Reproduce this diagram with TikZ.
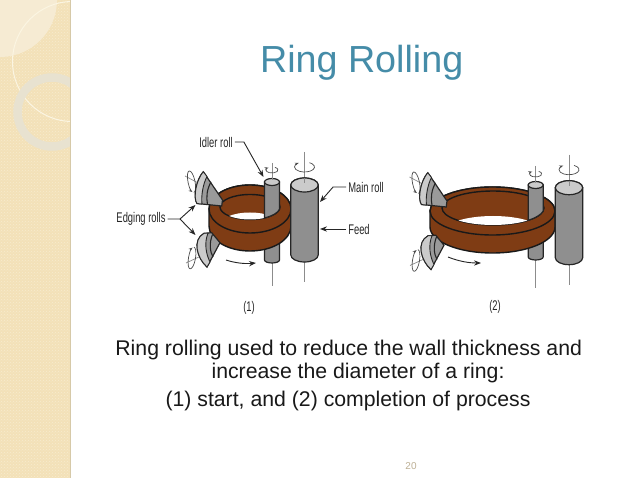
\documentclass[tikz,border=0pt]{standalone}
\usepackage{fontspec}
\setmainfont{Liberation Sans}
\newfontfamily\figfont[FakeStretch=0.67]{Liberation Sans}
\usepackage{xcolor}
\usepackage{tikz}
\usetikzlibrary{arrows.meta, patterns}
\definecolor{panelcol}{HTML}{F3E1B8}
\definecolor{paneldot}{HTML}{F7EBCF}
\definecolor{panelglow}{HTML}{F6EBD3}
\definecolor{panelring}{HTML}{E8E2D0}
\definecolor{panelline}{HTML}{FBF5E2}
\definecolor{paneledge}{HTML}{D6C9A8}
\definecolor{pagecol}{HTML}{BDB095}
\definecolor{brownring}{HTML}{7F3C14}
\definecolor{rollgray}{HTML}{8F8F8F}
\definecolor{capgray}{HTML}{CBCBCB}
\definecolor{titleblue}{HTML}{458CA8}
\tikzset{
  title/.style   = {anchor=base, inner sep=0pt, text=titleblue, font=\fontsize{37.7}{40}\selectfont},
  body/.style    = {anchor=base, inner sep=0pt, text=black!90, font=\fontsize{21.25}{24}\selectfont},
  figlabel/.style= {inner sep=0pt, text=black!85, font=\figfont\fontsize{14}{15}\selectfont},
  roll/.style    = {draw=black!85, line width=1.2pt, fill=rollgray},
  rollcap/.style = {draw=black!85, line width=1.2pt, fill=capgray},
  ringline/.style= {draw=black!90, line width=1.4pt, fill=brownring},
  axis/.style    = {draw=black!45, line width=0.7pt},
  spin/.style    = {draw=black!70, line width=0.7pt, -{Stealth[length=4pt]}},
  arr/.style     = {-{Stealth[length=7pt]}, line width=0.9pt, draw=black!85},
  stripe/.style  = {line width=1.1pt, black!85},
  uppercone/.pic = {
    \draw[axis] (185,176) -- (201,184.5);
    \draw[spin, rotate around={12:(191.5,181.7)}] (191.5,170.7) ++(0,22) arc[start angle=90, end angle=-250, x radius=3.5, y radius=11];
    \draw[roll, fill=rollgray!90] (203.3,171.7) -- (222.5,200) -- (221.7,206) -- (197,203.5)
      .. controls (193,198) and (196,180) .. (203.3,171.7);
    \draw[rollcap, line width=0.9pt] (203.3,171.7) .. controls (196,180) and (193,198) .. (197,203.5)
      .. controls (200,204) and (201,204) .. (202,204) .. controls (201,196) and (203,184) .. (207,176.5) -- cycle;
    \draw[stripe] (211,182) .. controls (207,189) and (206,197) .. (207.5,204.5);
  },
  lowercone/.pic = {
    \draw[axis] (186,263) -- (201,256);
    \draw[spin, rotate around={-10:(192,258)}] (192,247) arc[start angle=-90, end angle=250, x radius=3.5, y radius=11];
    \draw[roll, fill=rollgray!90] (204,233.3) -- (211.7,232.7) -- (220,242.7) -- (207,267)
      .. controls (197,258) and (192,240) .. (204,233.3);
    \draw[rollcap, line width=0.9pt] (204,233.3) .. controls (192,240) and (197,258) .. (207,267)
      -- (210,262) .. controls (206,254) and (204,243) .. (208,233.2) -- cycle;
    \draw[stripe] (212.5,234.5) .. controls (209,243) and (210,252) .. (213,257);
  },
  mainroll/.pic  = {
    \draw[axis] (0,-33) -- (0,97);
    \draw[spin] (0,-18) ++(-60:10 and 5) arc[start angle=-60, end angle=235, x radius=10, y radius=5];
    \draw[roll] (-13.7,0) -- (-13.7,70) arc[start angle=180, end angle=0, x radius=13.7, y radius=7]
      -- (13.7,0) arc[start angle=0, end angle=-180, x radius=13.7, y radius=7] -- cycle;
    \draw[rollcap] (0,0) ellipse (13.7 and 7);
    \draw[axis] (0,-7) -- (0,-2);
  }
}
\begin{document}
\begin{tikzpicture}[x=1pt, y=-1pt]
  \useasboundingbox (0,0) rectangle (638,478);
  % side panel
  \fill[white] (0,0) rectangle (638,478);
  \fill[panelcol] (0,0) rectangle (70,478);
  \fill[pattern=crosshatch dots, pattern color=paneldot] (0,0) rectangle (70,478);
  \begin{scope}
    \clip (0,0) rectangle (70,478);
    \fill[panelglow] (0,0) circle (57);
    \draw[panelline, line width=1pt] (72.5,61.5) circle (60);
    \draw[panelring, line width=8.5pt] (52,112) circle (34.5);
  \end{scope}
  \fill[paneledge] (69.5,0) rectangle (71,478);

  \node[title] (title) at (361.7,72.7) {Ring Rolling};

  % (1) start
  \draw[axis] (272,260) -- (272,286);
  \draw[roll] (264.5,230) -- (264.5,260) arc[start angle=180, end angle=0, x radius=7.5, y radius=3] -- (279.5,230) -- cycle;
  \draw[ringline] (209,209) -- (209,226) arc[start angle=180, end angle=0, x radius=41, y radius=25] -- (291,209)
    arc[start angle=0, end angle=-180, x radius=41, y radius=24] -- cycle;
  \draw[ringline] (250,209) ellipse (41 and 24);
  \draw[ringline] (250,207) ellipse (30 and 12.5);
  \begin{scope}
    \clip (250,207) ellipse (30 and 12.5);
    \fill[white] (250,225) ellipse (30 and 12.5);
  \end{scope}
  \draw[roll] (264.5,182) -- (264.5,217.9) arc[start angle=61.1, end angle=10.5, x radius=30, y radius=12.5] -- (279.5,182) -- cycle;
  \draw[rollcap] (272,182) ellipse (7.5 and 3.5);
  \draw[axis] (272,163) -- (272,180);
  \draw[spin] (272,170) ++(-60:6 and 3) arc[start angle=-60, end angle=235, x radius=6, y radius=3];
  \pic at (304.5,185) {mainroll};
  \pic at (0,0) {uppercone};
  \pic at (0,0) {lowercone};

  \node[figlabel] (idlerlabel) at (216,142) {Idler roll};
  \node[figlabel] (edginglabel) at (141,219) {Edging rolls};
  \node[figlabel] (mainlabel) at (366,187) {Main roll};
  \node[figlabel] (feedlabel) at (359,229) {Feed};
  \node[figlabel] (startlabel) at (249,308) {(1)};
  \coordinate (idlertip) at (263.5,177);
  \coordinate (edgefork) at (180,219);
  \coordinate (edgetipa) at (195.5,205);
  \coordinate (edgetipb) at (195.5,235);
  \coordinate (maintip) at (320,202);
  \coordinate (feedtip) at (320,229);
  \coordinate (turnfroma) at (226,260);
  \coordinate (turntoa) at (256,263);
  \draw[arr] (idlerlabel.east) ++(2,0) -- ++(9,0) -- (idlertip);
  \draw[arr] (edginglabel.east) ++(2,0) -- (edgefork) -- (edgetipa);
  \draw[arr] (edgefork) -- (edgetipb);
  \draw[arr] (mainlabel.west) ++(-2,0) -- ++(-13,0) -- (maintip);
  \draw[arr] (feedlabel.west) ++(-2,0) -- (feedtip);
  \draw[arr] (turnfroma) .. controls (235,263) and (245,264) .. (turntoa);

  % (2) completion
  \draw[axis] (535.7,257) -- (535.7,288);
  \draw[roll] (528.2,230) -- (528.2,257) arc[start angle=180, end angle=0, x radius=7.5, y radius=3] -- (543.2,230) -- cycle;
  \draw[ringline] (430,211) -- (430,227) arc[start angle=180, end angle=0, x radius=62.5, y radius=26] -- (555,211)
    arc[start angle=0, end angle=-180, x radius=62.5, y radius=24] -- cycle;
  \draw[ringline] (492.5,211) ellipse (62.5 and 24);
  \draw[ringline] (493,208) ellipse (51 and 17);
  \begin{scope}
    \clip (493,208) ellipse (51 and 17);
    \fill[white] (493,233) ellipse (51 and 17);
  \end{scope}
  \draw[roll] (528.2,185) -- (528.2,220.3) arc[start angle=46.4, end angle=10.2, x radius=51, y radius=17] -- (543.2,185) -- cycle;
  \draw[rollcap] (535.7,185) ellipse (7.5 and 3.5);
  \draw[axis] (535.7,166) -- (535.7,183);
  \draw[spin] (535.7,174) ++(-60:6 and 3) arc[start angle=-60, end angle=235, x radius=6, y radius=3];
  \pic at (569,187.7) {mainroll};
  \pic at (224.5,1) {uppercone};
  \pic at (224,2.5) {lowercone};

  \node[figlabel] (endlabel) at (495,307) {(2)};
  \coordinate (turnfromb) at (448,257);
  \coordinate (turntob) at (481,263);
  \draw[arr] (turnfromb) .. controls (458,261) and (468,263) .. (turntob);

  % caption
  \node[body] (captiona) at (348.7,356) {Ring rolling used to reduce the wall thickness and};
  \node[body] (captionb) at (358,379) {increase the diameter of a ring:};
  \node[body] (captionc) at (348,407) {(1) start, and (2) completion of process};
  \node[anchor=base, inner sep=0pt, text=pagecol, font=\fontsize{10}{12}\selectfont] (pagenum) at (411,469.5) {20};
\end{tikzpicture}
\end{document}
